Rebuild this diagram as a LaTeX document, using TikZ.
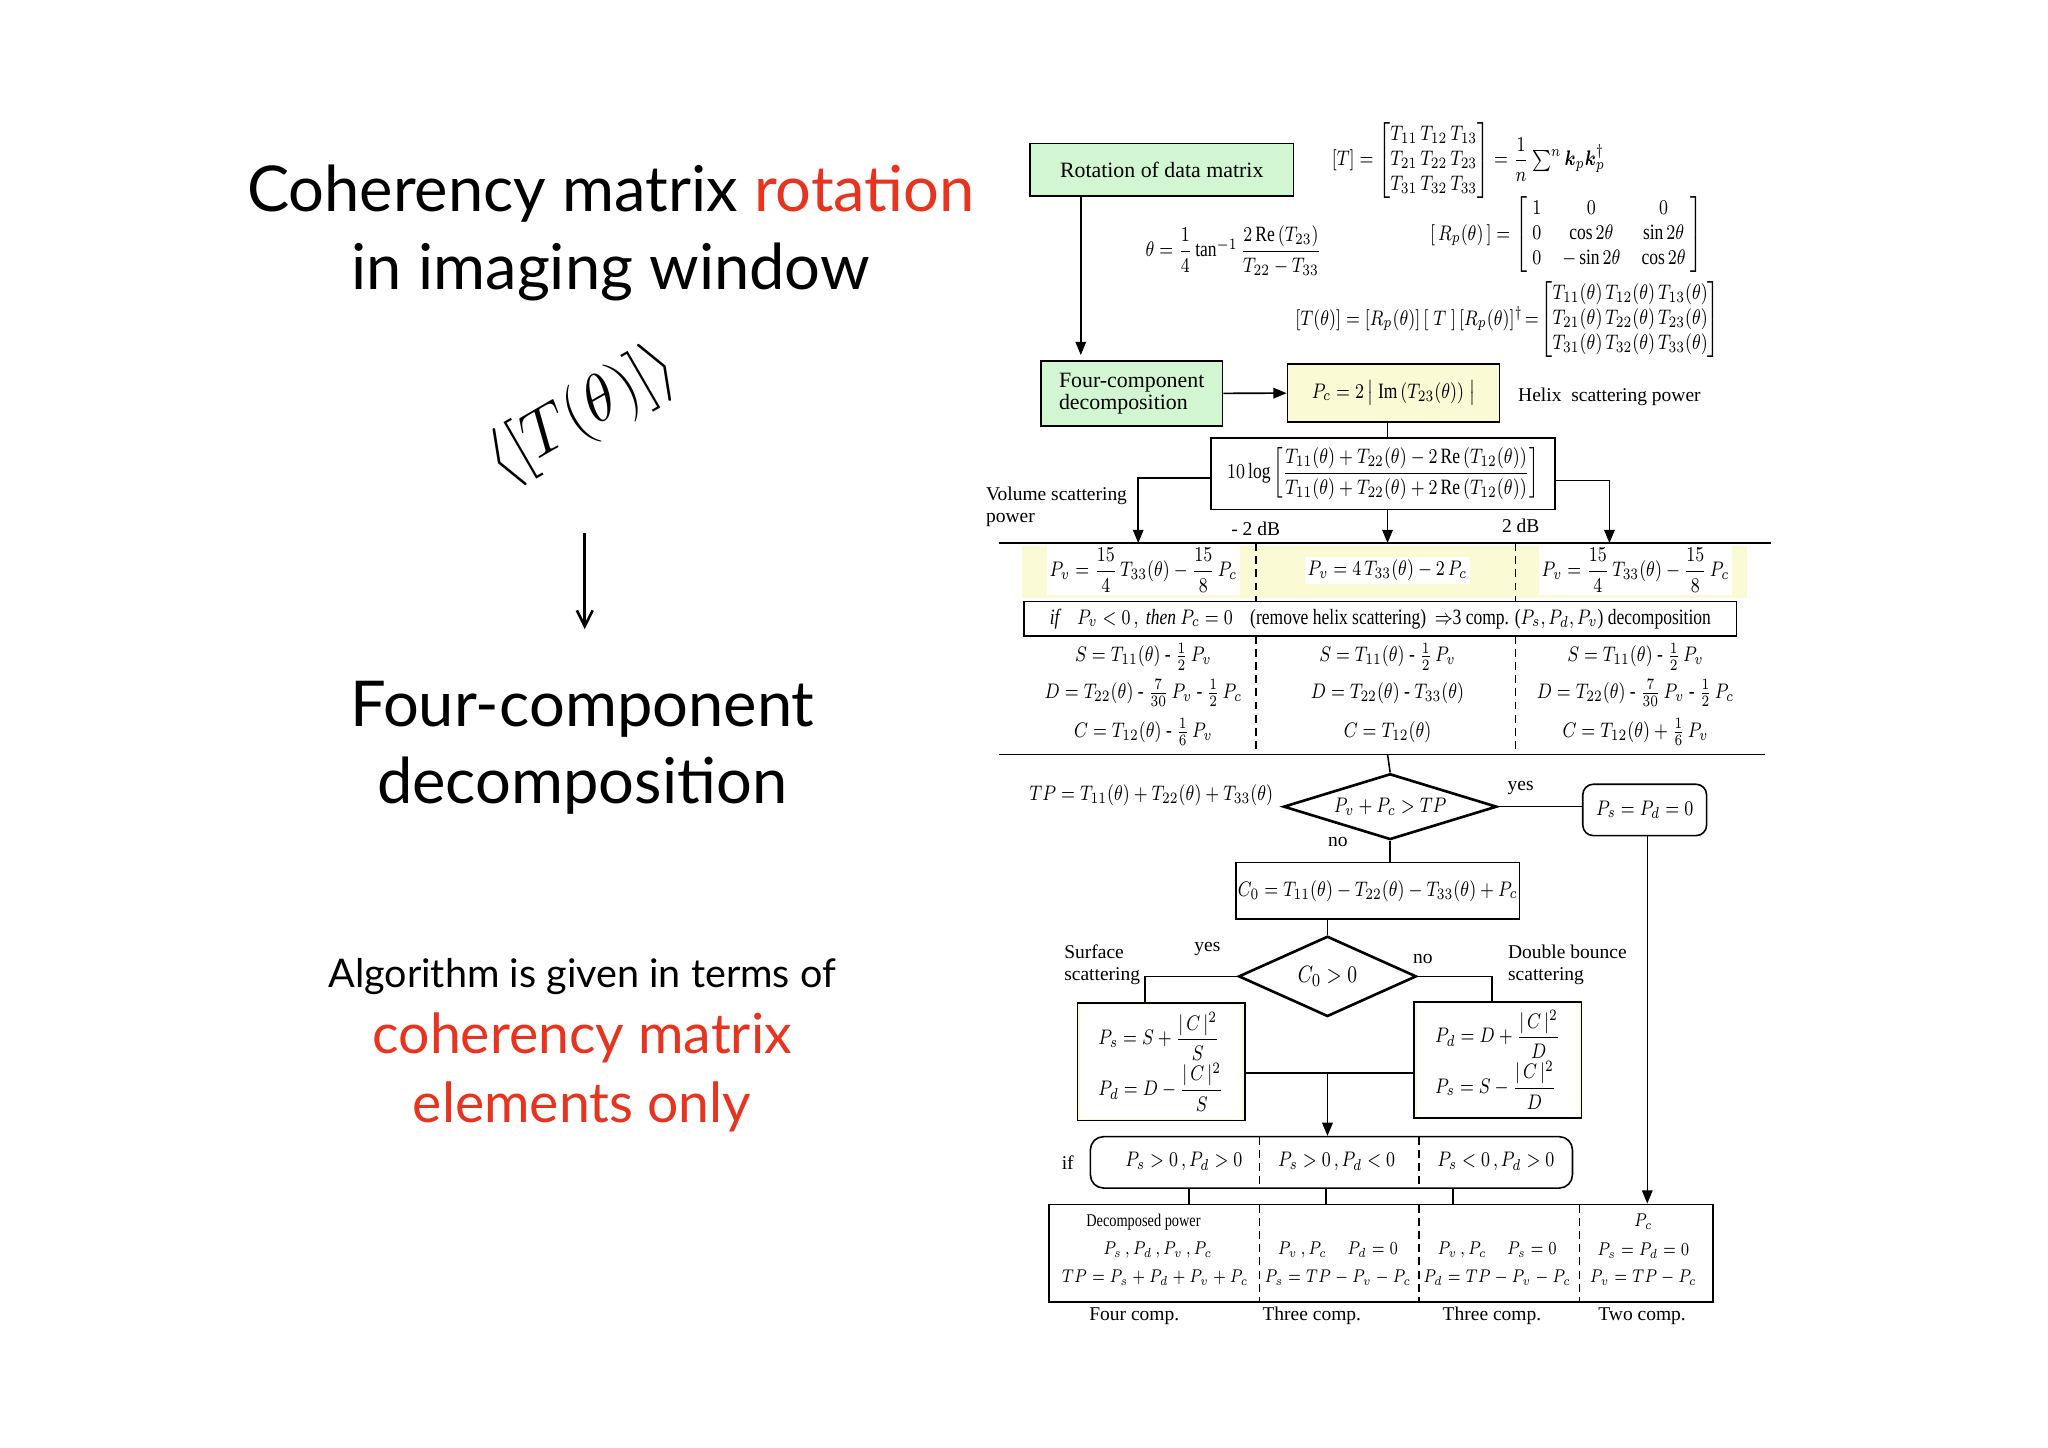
\documentclass[tikz,border=0pt]{standalone}
\usepackage{amsmath}
\usepackage{fontspec}
\setmainfont{Liberation Serif}
\newfontfamily\titlefont{Lato}
\usetikzlibrary{shapes.geometric,arrows.meta}
\definecolor{gfill}{HTML}{D2F5D2}
\definecolor{yfill}{HTML}{FAFAD4}
\definecolor{tred}{HTML}{E8331E}
\newcommand\cz[1]{\scalebox{0.8}[1]{#1}}
\tikzset{
 tx/.style={font=\fontsize{7.4}{8.4}\selectfont, inner sep=0pt},
 eq/.style={font=\fontsize{8.3}{9.5}\selectfont, inner sep=0pt},
 bx/.style={draw, line width=0.6pt, inner sep=0pt},
 ln/.style={line width=0.6pt},
 ar/.style={line width=0.6pt, -{Triangle[length=5pt,width=4pt]}},
 dsh/.style={line width=0.6pt, dash pattern=on 3pt off 2pt},
 big/.style={font=\titlefont\fontsize{24}{28}\selectfont, inner sep=0pt},
}
\begin{document}
\begin{tikzpicture}[x=0.4955pt,y=-0.4955pt]
\useasboundingbox[fill=white] (0,0) rectangle (1569,1109.3);
% left side
\node[big] (t1) at (468,148) {Coherency matrix \textcolor{tred}{rotation}};
\node[big] (t2) at (468,208) {in imaging window};
\node[inner sep=0pt, rotate=30, font=\fontsize{38}{42}\selectfont] (tt) at (446,318) {$\langle[T(\theta)]\rangle$};
\coordinate (a1) at (448,408); \coordinate (a2) at (448,482);
\draw[line width=1pt, -{Straight Barb[length=6pt,width=6pt]}] (a1) -- (a2);
\node[big] (f1) at (446,543) {Four-component};
\node[big] (f2) at (446,602) {decomposition};
\node[inner sep=0pt, font=\titlefont\fontsize{15}{18}\selectfont] (g1) at (446,748) {Algorithm is given in terms of};
\node[inner sep=0pt, font=\titlefont\fontsize{21}{24}\selectfont, text=tred] (g2) at (446,795) {coherency matrix};
\node[inner sep=0pt, font=\titlefont\fontsize{21}{24}\selectfont, text=tred] (g3) at (446,848) {elements only};
% top
\node[bx, fill=gfill, minimum width=100pt, minimum height=20pt, tx] (rot) at (890,130) {\fontsize{8.3}{9}\selectfont Rotation of data matrix};
\node[eq] (eqT) at (1125,123) {\cz{$[T]=\left[\begin{matrix}T_{11}\,T_{12}\,T_{13}\\T_{21}\,T_{22}\,T_{23}\\T_{31}\,T_{32}\,T_{33}\end{matrix}\right]=\dfrac{1}{n}\sum^{n}\boldsymbol{k}_p\boldsymbol{k}_p^{\dagger}$}};
\node[eq] (eqth) at (945,192) {\cz{$\theta=\dfrac{1}{4}\tan^{-1}\dfrac{2\,\mathrm{Re}\,(T_{23})}{T_{22}-T_{33}}$}};
\node[eq] (eqR) at (1200,180) {\cz{$[\,R_p(\theta)\,]=\left[\begin{matrix}\;1&0&0\;\\\;0&\cos2\theta&\sin2\theta\;\\\;0&-\sin2\theta&\cos2\theta\;\end{matrix}\right]$}};
\node[eq] (eqTt) at (1155,245) {\cz{$[T(\theta)]=[R_p(\theta)]\,[\;T\;]\,[R_p(\theta)]^{\dagger}\!=\!\left[\begin{matrix}T_{11}(\theta)\,T_{12}(\theta)\,T_{13}(\theta)\\T_{21}(\theta)\,T_{22}(\theta)\,T_{23}(\theta)\\T_{31}(\theta)\,T_{32}(\theta)\,T_{33}(\theta)\end{matrix}\right]$}};
\node[bx, fill=gfill, minimum width=69pt, minimum height=24.5pt, tx, align=left] (four) at (867,301.5) {\fontsize{8.3}{8.5}\selectfont Four-component\\\fontsize{8.3}{8.5}\selectfont decomposition};
\coordinate (r1) at (828,150);
\draw[ar] (r1) -- (828,272);
\node[bx, fill=yfill, minimum width=80.5pt, minimum height=22pt, eq] (pc) at (1067.5,301) {\cz{$P_c=2\,\big|\;\mathrm{Im}\,(T_{23}(\theta))\;\big|$}};
\draw[ar] (four) -- (pc);
\node[tx] (helix) at (1233,304) {Helix\ \ scattering power};
\node[bx, minimum width=130.5pt, minimum height=27pt, eq] (logb) at (1059.5,363) {\cz{$10\log\left[\dfrac{T_{11}(\theta)+T_{22}(\theta)-2\,\mathrm{Re}\,(T_{12}(\theta))}{T_{11}(\theta)+T_{22}(\theta)+2\,\mathrm{Re}\,(T_{12}(\theta))}\right]$}};
\draw[ln] (pc.south -| 1063,0) -- (logb.north -| 1063,0);
\coordinate (h1) at (765,416); \coordinate (h2) at (1357,416);
\draw[ln] (h1) -- (h2);
\draw[ar] (logb.west |- 0,366) -| (872,416);
\draw[ar] (logb.east |- 0,368) -| (1233,416);
\draw[ar] (logb.south -| 1063,0) -- (1063,416);
\node[tx, align=left, anchor=west] (vol) at (755,388) {Volume scattering\\power};
\node[tx] (m2) at (962,405) {- 2 dB};
\node[tx] (p2) at (1165,403) {2 dB};
% yellow band
\fill[yfill] (783,418) rectangle (1338,458);
\node[eq, fill=white, inner sep=1pt] (pv1) at (876,437) {\cz{$P_v=\dfrac{15}{4}\,T_{33}(\theta)-\dfrac{15}{8}\,P_c$}};
\node[eq, fill=white, inner sep=1pt] (pv2) at (1063,437) {\cz{$P_v=4\,T_{33}(\theta)-2\,P_c$}};
\node[eq, fill=white, inner sep=1pt] (pv3) at (1253,437) {\cz{$P_v=\dfrac{15}{4}\,T_{33}(\theta)-\dfrac{15}{8}\,P_c$}};
\node[bx, fill=white, minimum width=270.5pt, minimum height=13pt, eq] (ifb) at (1057.5,474) {\cz{$\mathit{if}\quad P_v<0\,,\ \mathit{then}\ P_c=0$\quad(remove helix scattering)\ \ $\Rightarrow$3 comp. ($P_s, P_d, P_v$) decomposition}};
\draw[dsh] (962,416) -- (962,461); \draw[dsh] (962,487) -- (962,576);
\draw[dsh] (1161,416) -- (1161,461); \draw[dsh] (1161,487) -- (1161,576);
\node[eq] (s1) at (876,503) {\cz{$S=T_{11}(\theta)$ - $\frac{1}{2}\,P_v$}};
\node[eq] (s2) at (1063,503) {\cz{$S=T_{11}(\theta)$ - $\frac{1}{2}\,P_v$}};
\node[eq] (s3) at (1253,503) {\cz{$S=T_{11}(\theta)$ - $\frac{1}{2}\,P_v$}};
\node[eq] (d1) at (876,531) {\cz{$D=T_{22}(\theta)$ - $\frac{7}{30}\,P_v$ - $\frac{1}{2}\,P_c$}};
\node[eq] (d2) at (1063,531) {\cz{$D=T_{22}(\theta)$ - $T_{33}(\theta)$}};
\node[eq] (d3) at (1253,531) {\cz{$D=T_{22}(\theta)$ - $\frac{7}{30}\,P_v$ - $\frac{1}{2}\,P_c$}};
\node[eq] (c1) at (876,561) {\cz{$C=T_{12}(\theta)$ - $\frac{1}{6}\,P_v$}};
\node[eq] (c2) at (1063,561) {\cz{$C=T_{12}(\theta)$}};
\node[eq] (c3) at (1253,561) {\cz{$C=T_{12}(\theta)+\frac{1}{6}\,P_v$}};
\coordinate (h3) at (765,578); \coordinate (h4) at (1352,578);
\draw[ln] (h3) -- (h4);
% lower flow
\node[eq] (tp) at (882,609) {\cz{$TP=T_{11}(\theta)+T_{22}(\theta)+T_{33}(\theta)$}};
\node[draw, line width=1pt, diamond, aspect=3.24, minimum width=81pt, minimum height=25pt, inner sep=0pt, eq] (dia1) at (1065,618) {\cz{$P_v+P_c>TP$}};
\draw[ln] (1063,578) -- (dia1.north);
\node[bx, rounded corners=4pt, minimum width=47pt, minimum height=19.5pt, eq] (psd) at (1260,620.5) {\cz{$P_s=P_d=0$}};
\draw[ln] (dia1.east) -- (psd.west |- dia1.east);
\node[tx] (yes1) at (1165,604) {yes};
\node[tx] (no1) at (1025,645) {no};
\node[bx, minimum width=107.5pt, minimum height=21.5pt, eq] (c0) at (1055.5,682.5) {\cz{$C_0=T_{11}(\theta)-T_{22}(\theta)-T_{33}(\theta)+P_c$}};
\draw[ln] (dia1.south) -- (c0.north -| dia1.south);
\node[draw, line width=1pt, diamond, aspect=2.2, minimum width=67.5pt, minimum height=30.5pt, inner sep=0pt, tx] (dia2) at (1017,748) {\fontsize{9.5}{10}\selectfont\cz{$C_0>0$}};
\draw[ln] (c0.south -| dia2.north) -- (dia2.north);
\node[tx] (yes2) at (925,727) {yes};
\node[tx] (no2) at (1090,735) {no};
\node[tx, align=left, anchor=west] (surf) at (815,739) {Surface\\scattering};
\node[tx, align=left, anchor=west] (dbl) at (1155,739) {Double bounce\\scattering};
\node[bx, fill=yfill, minimum width=63.5pt, minimum height=44.5pt, eq, align=left] (lb) at (889.5,813.5) {\colorbox{white}{\cz{$\begin{array}{l}P_s=S+\dfrac{|\,C\,|^2}{S}\\[4pt] P_d=D-\dfrac{|\,C\,|^2}{S}\end{array}$}}};
\node[bx, fill=yfill, minimum width=63.5pt, minimum height=44pt, eq, align=left] (rb) at (1147.5,812) {\colorbox{white}{\cz{$\begin{array}{l}P_d=D+\dfrac{|\,C\,|^2}{D}\\[4pt] P_s=S-\dfrac{|\,C\,|^2}{D}\end{array}$}}};
\draw[ln] (dia2.west) -| (877,769);
\draw[ln] (dia2.east) -| (1143,768);
\draw[ln] (lb.east |- 0,822) -- (rb.west |- 0,822);
\node[bx, rounded corners=5pt, minimum width=183pt, minimum height=19.5pt] (ifr) at (1020,890.5) {};
\draw[ar] (1017,822) -- (ifr.north -| 1017,0);
\draw[dsh] (965,871) -- (965,910); \draw[dsh] (1087,871) -- (1087,910);
\node[tx] (if) at (818,891) {if};
\node[eq] (i1) at (907,890) {\cz{$P_s>0\,,P_d>0$}};
\node[eq] (i2) at (1024,890) {\cz{$P_s>0\,,P_d<0$}};
\node[eq] (i3) at (1146,890) {\cz{$P_s<0\,,P_d>0$}};
\node[bx, minimum width=252pt, minimum height=37pt] (bot) at (1058,960) {};
\draw[ln] (911,910) -- (911,923); \draw[ln] (1016,910) -- (1016,923); \draw[ln] (1113,910) -- (1113,923);
\draw[ar] (psd.south -| 1262,0) -- (bot.north -| 1262,0);
\draw[dsh] (965,923) -- (965,997); \draw[dsh] (1087,923) -- (1087,997); \draw[dsh] (1210,923) -- (1210,997);
\node[tx, font=\fontsize{6.8}{7}\selectfont] (dp) at (876,936) {\cz{Decomposed power}};
\node[tx] (b1) at (887,958) {\cz{$P_s\,,P_d\,,P_v\,,P_c$}};
\node[tx] (b2) at (885,979) {\cz{$TP=P_s+P_d+P_v+P_c$}};
\node[tx] (b3) at (1025,958) {\cz{$P_v\,,P_c\quad\; P_d=0$}};
\node[tx] (b4) at (1025,979) {\cz{$P_s=TP-P_v-P_c$}};
\node[tx] (b5) at (1147,958) {\cz{$P_v\,,P_c\quad\; P_s=0$}};
\node[tx] (b6) at (1147,979) {\cz{$P_d=TP-P_v-P_c$}};
\node[tx] (b7) at (1259,936) {\cz{$P_c$}};
\node[tx] (b8) at (1259,958) {\cz{$P_s=P_d=0$}};
\node[tx] (b9) at (1259,979) {\cz{$P_v=TP-P_c$}};
\node[tx] (l1) at (869,1008) {Four comp.};
\node[tx] (l2) at (1005,1008) {Three comp.};
\node[tx] (l3) at (1143,1008) {Three comp.};
\node[tx] (l4) at (1258,1008) {Two comp.};
\end{tikzpicture}
\end{document}
